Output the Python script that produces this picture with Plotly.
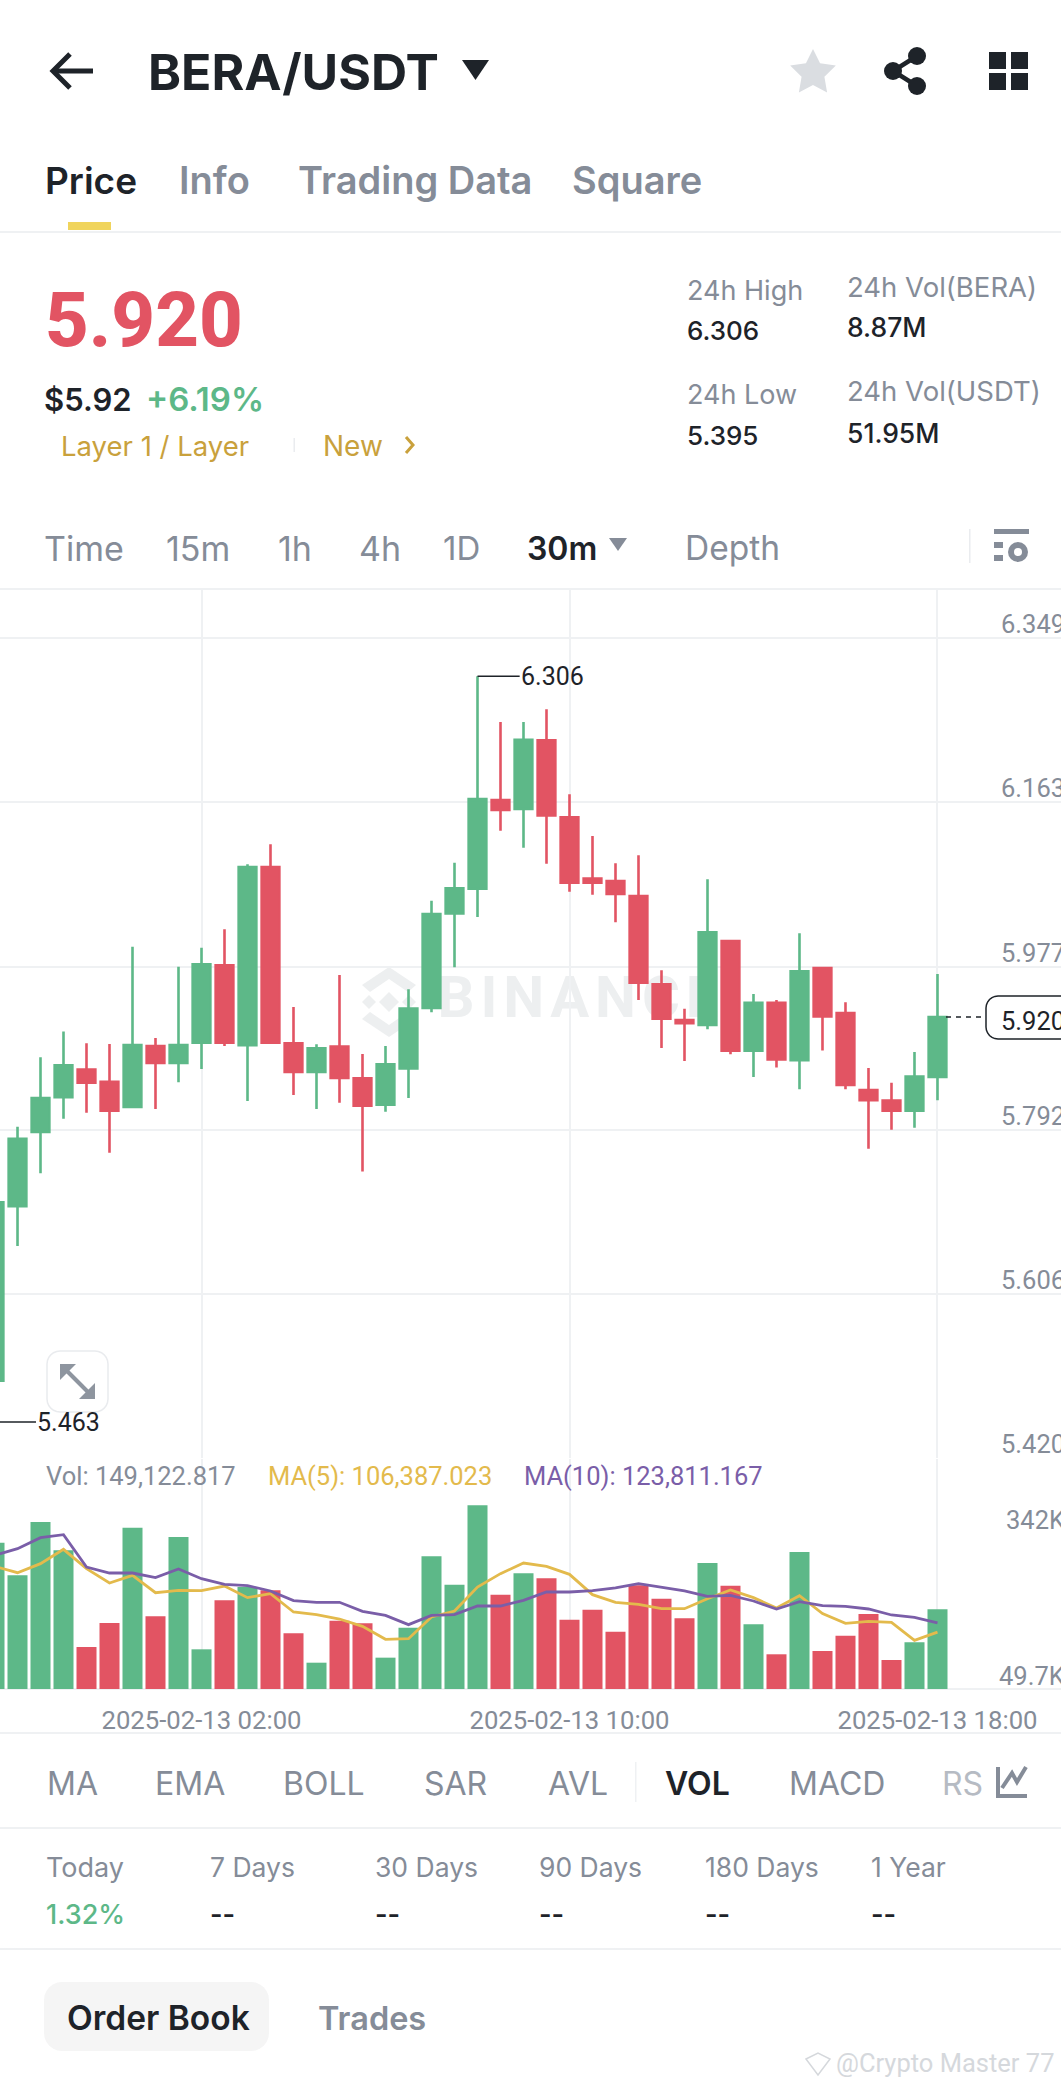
import math
import pandas as pd
import plotly.graph_objects as go

# --- candle data (30m bars) ---
opens = [5.508, 5.7055, 5.7897, 5.8290, 5.8603, 5.8464, 5.8180, 5.8871, 5.8679, 5.8909, 5.9785, 5.8879, 6.0899, 5.8902,
         5.8577, 5.8864, 5.8505, 5.8207, 5.8618, 5.9302, 6.0374, 6.0653, 6.1658, 6.1556, 6.2334, 6.1462, 6.0767, 6.0740,
         6.0570, 5.9569, 5.9166, 5.9109, 6.0060, 5.8819, 5.9359, 5.8709, 5.9755, 5.9245, 5.8373, 5.8252, 5.8139, 5.8520]
closes = [5.710, 5.782, 5.8282, 5.8652, 5.8456, 5.8139, 5.8883, 5.8679, 5.8883, 5.9797, 5.8909, 6.0899, 5.8909, 5.8577,
          5.8845, 5.8509, 5.8195, 5.8664, 5.9294, 6.0366, 6.0657, 6.1669, 6.1545, 6.2341, 6.1484, 6.0721, 6.0721, 6.0593,
          5.9588, 5.9180, 5.9128, 6.0159, 5.8819, 5.9359, 5.8720, 5.9717, 5.9207, 5.8430, 5.8256, 5.8139, 5.8524, 5.920]
highs = [5.725, 5.7957, 5.8743, 5.9034, 5.8902, 5.8894, 5.9996, 5.8962, 5.9770, 5.9985, 6.0193, 6.0929, 6.1156, 5.9313,
         5.8890, 5.9676, 5.8781, 5.8871, 5.9513, 6.0517, 6.0948, 6.306, 6.2541, 6.2541, 6.2685, 6.1722, 6.1250, 6.0940,
         6.1031, 5.9728, 5.9294, 6.0759, 6.0060, 5.9461, 5.9393, 6.0147, 5.9755, 5.9366, 5.8622, 5.8456, 5.8803, 5.9687]
lows = [5.463, 5.6606, 5.7429, 5.8048, 5.8116, 5.7663, 5.8180, 5.8158, 5.8460, 5.8611, 5.8871, 5.8248, 5.8909, 5.8316,
        5.8158, 5.8229, 5.7448, 5.8127, 5.8282, 5.9253, 5.9763, 6.0332, 6.1310, 6.1118, 6.0937, 6.0619, 6.0585, 6.0272,
        5.9393, 5.8849, 5.8701, 5.9060, 5.8777, 5.8520, 5.8626, 5.8380, 5.8819, 5.8380, 5.7708, 5.7923, 5.7946, 5.8256]

# --- volume and its moving averages ---
volumes = [273700, 212600, 312300, 259300, 78500, 123400, 301700, 135900, 284200, 74200, 165800, 190700, 184500, 104100,
           49200, 127800, 122800, 58600, 114700, 248100, 195100, 343500, 176400, 216300, 207000, 129600, 148300, 107200,
           193900, 168900, 132200, 235600, 193200, 121000, 64900, 256200, 71100, 99700, 140300, 54200, 87300, 149123]
ma5 = [229400, 217500, 234400, 261200, 225000, 198200, 212500, 180100, 184500, 183900, 192600, 170800, 178300, 144000,
       139000, 130900, 117200, 92900, 94100, 134600, 145900, 190700, 215700, 235600, 229400, 214400, 176400, 162100,
       158300, 150200, 150200, 168900, 185100, 170800, 151500, 174500, 140900, 122800, 126500, 124700, 91000, 106387]
ma10 = [249900, 262400, 283000, 288600, 228100, 216900, 216900, 208200, 224400, 206300, 195700, 193200, 183300, 165200,
        162100, 162100, 145200, 137700, 120300, 137700, 139000, 155200, 155200, 165800, 181400, 181400, 183900, 188900,
        197000, 190100, 183300, 173300, 175100, 164600, 149600, 163300, 155800, 154600, 149600, 138400, 134000, 123811]

times = pd.date_range("2025-02-12 21:30", periods=len(opens), freq="30min")
time_ticks = ["2025-02-13 02:00", "2025-02-13 10:00", "2025-02-13 18:00"]
price_ticks = [6.349, 6.163, 5.977, 5.792, 5.606, 5.420]
vol_ticks = [342000, 49700]
vol_tick_text = ["342K", "49.7K"]

# --- page and colours ---
W, H = 1061, 2085
GREEN = "#5DB888"
RED = "#E25463"
DARK = "#1E2329"
GRAY = "#858C98"
GOLD = "#C9A13C"
LINE = "#EFF1F3"
UI = "Inter"
NUM = "Roboto"
NUDGE = 2.5  # annotations carry a little padding on their left side

fig = go.Figure()

# watermark goes on its own bottom subplot so candles cover it
fig.add_trace(go.Scatter(x=[578], y=[1002], mode="text", text=["B\u200aI\u200aN\u200aA\u200aN\u200aC\u200aE"],
                         textfont=dict(family=NUM, size=58, color="#EDEFF0", weight=700),
                         xaxis="x", yaxis="y", showlegend=False, hoverinfo="skip"))

fig.add_trace(go.Candlestick(x=times, open=opens, high=highs, low=lows, close=closes, xaxis="x2", yaxis="y2",
                             increasing=dict(line=dict(color=GREEN, width=2.6), fillcolor=GREEN),
                             decreasing=dict(line=dict(color=RED, width=2.6), fillcolor=RED),
                             whiskerwidth=0, showlegend=False, hoverinfo="skip"))

bar_colors = [GREEN if c >= o else RED for o, c in zip(opens, closes)]
fig.add_trace(go.Bar(x=times, y=volumes, marker=dict(color=bar_colors, line=dict(width=0)), xaxis="x3", yaxis="y3",
                     showlegend=False, hoverinfo="skip"))
fig.add_trace(go.Scatter(x=times, y=ma5, mode="lines", line=dict(color="#E3BA4C", width=2.8), xaxis="x3", yaxis="y3",
                         showlegend=False, hoverinfo="skip"))
fig.add_trace(go.Scatter(x=times, y=ma10, mode="lines", line=dict(color="#7A5EA8", width=2.8), xaxis="x3", yaxis="y3",
                         showlegend=False, hoverinfo="skip"))


def label(text, x, y, size, color=GRAY, weight=400, family=UI, anchor="left"):
    if anchor == "left":
        x -= NUDGE
    fig.add_annotation(text=text, x=x / W, y=1 - y / H, xref="paper", yref="paper", showarrow=False,
                       xanchor=anchor, yanchor="middle", font=dict(family=family, size=size, color=color, weight=weight))


def box(x0, y0, x1, y1, fill, layer="above"):
    fig.add_shape(type="rect", xref="paper", yref="paper", x0=x0 / W, x1=x1 / W, y0=1 - y0 / H, y1=1 - y1 / H,
                  fillcolor=fill, line=dict(width=0), layer=layer)


def path(points, fill=None, stroke=None, width=0, closed=True, layer="above", dash=None):
    d = "M " + " L ".join(f"{px / W:.5f},{1 - py / H:.5f}" for px, py in points) + (" Z" if closed else "")
    fig.add_shape(type="path", xref="paper", yref="paper", path=d, fillcolor=fill if fill else "rgba(0,0,0,0)",
                  line=dict(color=stroke if stroke else "rgba(0,0,0,0)", width=width, dash=dash), layer=layer)


def rounded(x0, y0, x1, y1, r, fill=None, stroke=None, width=0, layer="above"):
    pts = []
    for cx, cy, start in [(x1 - r, y0 + r, -90), (x1 - r, y1 - r, 0), (x0 + r, y1 - r, 90), (x0 + r, y0 + r, 180)]:
        for step in range(7):
            a = math.radians(start + step * 15)
            pts.append((cx + r * math.cos(a), cy + r * math.sin(a)))
    path(pts, fill=fill, stroke=stroke, width=width, layer=layer)


def circle(cx, cy, r, fill):
    fig.add_shape(type="circle", xref="paper", yref="paper", x0=(cx - r) / W, x1=(cx + r) / W,
                  y0=1 - (cy - r) / H, y1=1 - (cy + r) / H, fillcolor=fill, line=dict(width=0))


# --- header ---
path([(70, 54), (53, 71), (70, 88)], stroke=DARK, width=5, closed=False)
path([(53, 71), (93, 71)], stroke=DARK, width=5, closed=False)
label("BERA/USDT", 148, 72, 50, DARK, 700)
path([(462, 60), (489, 60), (475.5, 80)], fill=DARK)
star = []
for n in range(10):
    rad = 24 if n % 2 == 0 else 12
    a = math.radians(-90 + n * 36)
    star.append((813 + rad * math.cos(a), 73 + rad * math.sin(a)))
path(star, fill="#DADDE1")
path([(917, 56), (893, 71), (917, 86)], stroke=DARK, width=4.5, closed=False)
circle(917, 56, 9, DARK)
circle(893, 71, 9, DARK)
circle(917, 86, 9, DARK)
for bx, by in [(989, 52), (1011, 52), (989, 73), (1011, 73)]:
    box(bx, by, bx + 17, by + 17, DARK)

# --- tabs ---
label("Price", 45, 180, 37, DARK, 600)
label("Info", 179, 180, 38, GRAY, 600)
label("Trading Data", 298, 180, 38, GRAY, 600)
label("Square", 572, 180, 38, GRAY, 600)
box(68, 222, 111, 230, "#F0D45C")
box(0, 231, W, 233, LINE)

# --- price block ---
label("5.920", 45, 320, 76, RED, 800, NUM)
label("$5.92", 44, 399, 31, DARK, 600)
label("+6.19%", 146, 399, 33, GREEN, 600)
label("Layer 1 / Layer", 61, 446, 27.5, GOLD, 400)
box(293.5, 438, 295, 452, "#EAECEF")
label("New", 323, 446, 28, GOLD, 400)
path([(406, 437), (413, 445), (406, 453)], stroke=GOLD, width=3, closed=False)
label("24h High", 687, 290, 27, GRAY)
label("6.306", 687, 331, 26, DARK, 500)
label("24h Low", 687, 395, 27, GRAY)
label("5.395", 687, 436, 26, DARK, 500)
label("24h Vol(BERA)", 847, 287, 27.5, GRAY)
label("8.87M", 847, 327, 26.5, DARK, 500)
label("24h Vol(USDT)", 847, 391, 27.5, GRAY)
label("51.95M", 847, 433, 26.5, DARK, 500)

# --- interval row ---
label("Time", 44, 548, 34, GRAY, 400)
label("15m", 166, 548, 34, GRAY, 400)
label("1h", 278, 548, 34, GRAY, 400)
label("4h", 359, 548, 34, GRAY, 400)
label("1D", 443, 548, 33, GRAY, 400)
label("30m", 527, 548, 32, DARK, 600)
path([(609, 538), (627, 538), (618, 551)], fill=GRAY)
label("Depth", 685, 548, 33.5, GRAY, 400)
box(969, 529, 970.5, 563, "#EAECEF")
box(994, 529, 1029, 534, GRAY)
box(994, 542, 1003, 548, GRAY)
box(994, 555, 1003, 561, GRAY)
circle(1018, 552, 10, GRAY)
circle(1018, 552, 4, "white")
box(0, 588, W, 590, LINE)

# --- chart overlays ---
logo = "#EDEFF0"
path([(389, 992), (399, 1002), (389, 1012), (379, 1002)], fill=logo, layer="below")
path([(369, 995), (376, 1002), (369, 1009), (362, 1002)], fill=logo, layer="below")
path([(409, 995), (416, 1002), (409, 1009), (402, 1002)], fill=logo, layer="below")
path([(389, 967), (416, 985), (408, 992), (389, 979), (370, 992), (362, 985)], fill=logo, layer="below")
path([(389, 1037), (416, 1019), (408, 1012), (389, 1025), (370, 1012), (362, 1019)], fill=logo, layer="below")

for tick in price_ticks:
    fig.add_annotation(text=f"{tick:.3f}", x=(1001 - NUDGE) / W, y=tick, xref="paper", yref="y2", showarrow=False, xanchor="left",
                       yanchor="middle", yshift=14, font=dict(family=NUM, size=25.5, color=GRAY))
for tick, text, left in zip(vol_ticks, vol_tick_text, [1006, 999]):
    fig.add_annotation(text=text, x=(left - NUDGE) / W, y=tick, xref="paper", yref="y3", showarrow=False, xanchor="left",
                       yanchor="middle", yshift=-14, font=dict(family=NUM, size=25.5, color=GRAY))

# high / low markers
fig.add_shape(type="line", xref="x2", yref="y2", x0=times[21], x1=times[21] + pd.Timedelta(minutes=55),
              y0=max(highs), y1=max(highs), line=dict(color=DARK, width=1.5))
fig.add_annotation(text="6.306", x=times[21] + pd.Timedelta(minutes=54), y=max(highs), xref="x2", yref="y2", showarrow=False,
                   xanchor="left", yanchor="middle", font=dict(family=NUM, size=25, color=DARK))
fig.add_shape(type="line", xref="paper", yref="y2", x0=0, x1=36 / W, y0=5.461, y1=5.461, line=dict(color=DARK, width=1.5))
label("5.463", 37, 1422, 25, DARK, 400, NUM)

# last price tag
fig.add_shape(type="line", xref="paper", yref="y2", x0=946 / W, x1=985 / W, y0=closes[-1], y1=closes[-1],
              line=dict(color=DARK, width=1.5, dash="5px,5px"))
rounded(986, 996, 1075, 1039, 12, fill="white", stroke=DARK, width=1.5)
label("5.920", 1001, 1021, 25.5, DARK, 400, NUM)

# expand button
rounded(47, 1351, 108, 1412, 13, fill="rgba(255,255,255,0.9)", stroke="#E9EBEE", width=1.5)
path([(60, 1364), (76, 1364), (60, 1380)], fill="#8E959F")
path([(95, 1399), (79, 1399), (95, 1383)], fill="#8E959F")
path([(66, 1370), (89, 1393)], stroke="#8E959F", width=4, closed=False)

# volume legend
label("Vol: 149,122.817", 46, 1476, 25.5, GRAY, 400, NUM)
label("MA(5): 106,387.023", 268, 1476, 25.5, "#E3BA4C", 400, NUM)
label("MA(10): 123,811.167", 524, 1476, 25.5, "#7A5EA8", 400, NUM)

# --- indicator row ---
box(0, 1732, W, 1734, LINE)
for text, left in [("MA", 47), ("EMA", 155), ("BOLL", 283), ("SAR", 424), ("AVL", 548), ("MACD", 789)]:
    label(text, left, 1783, 32, GRAY, 400)
box(635, 1762, 636.5, 1802, "#EFF1F3")
label("VOL", 665, 1783, 32, DARK, 600)
label("RS", 942, 1783, 32, "#B6BBC3", 400)
path([(998, 1767), (998, 1796), (1027, 1796)], stroke=GRAY, width=4, closed=False)
path([(1002, 1788), (1012, 1773), (1017, 1782), (1026, 1767)], stroke=GRAY, width=4, closed=False)
box(0, 1827, W, 1829, LINE)

# --- performance row ---
label("Today", 46, 1867, 27, GRAY)
label("1.32%", 46, 1914, 27, GREEN, 500)
for text, left in [("7 Days", 210), ("30 Days", 375), ("90 Days", 540), ("180 Days", 705), ("1 Year", 871)]:
    label(text, left, 1867, 26.5, GRAY)
    label("--", left, 1914, 27, DARK, 600)
box(0, 1948, W, 1950, LINE)

# --- bottom tabs ---
rounded(44, 1982, 269, 2051, 18, fill="#F5F5F5")
label("Order Book", 158, 2018, 33.5, DARK, 600, anchor="center")
label("Trades", 318, 2018, 32.5, GRAY, 600)
path([(806, 2059), (818, 2053), (830, 2059), (818, 2075)], stroke="#D5D8DC", width=1.5)
label("@Crypto Master 77", 836, 2063, 25.5, "#D5D8DC", 400, NUM)

# --- axes: pixel space for the watermark, then price and volume ---
price_top = 6.4037
vol_top = 430100
fig.update_layout(
    width=W, height=H, autosize=False,
    margin=dict(l=0, r=0, t=0, b=0),
    paper_bgcolor="white", plot_bgcolor="rgba(0,0,0,0)",
    showlegend=False, bargap=0.13, boxgap=0.23, boxgroupgap=0,
    xaxis=dict(domain=[0, 1], range=[0, W], visible=False, fixedrange=True),
    yaxis=dict(domain=[0, 1], range=[H, 0], visible=False, fixedrange=True),
    xaxis2=dict(domain=[0, 1], anchor="y2", type="date", range=["2025-02-12 21:37:10", "2025-02-13 20:41:06"],
                tickvals=time_ticks, showticklabels=False, showgrid=True, gridcolor=LINE, gridwidth=1.5,
                rangeslider=dict(visible=False), zeroline=False, showline=False),
    yaxis2=dict(domain=[1 - 1458.3 / H, 1 - 590 / H], anchor="x2", range=[5.420, price_top], tickvals=price_ticks,
                showticklabels=False, showgrid=True, gridcolor=LINE, gridwidth=1.5, zeroline=False, showline=False),
    xaxis3=dict(domain=[0, 1], anchor="y3", type="date", range=["2025-02-12 21:37:10", "2025-02-13 20:41:06"],
                tickvals=time_ticks, tickformat="%Y-%m-%d %H:%M", showgrid=True, gridcolor=LINE, gridwidth=1.5,
                ticks="outside", ticklen=8, tickcolor="rgba(0,0,0,0)", zeroline=False, showline=False,
                tickfont=dict(family=NUM, size=25.7, color=GRAY)),
    yaxis3=dict(domain=[1 - 1689 / H, 1 - 1459 / H], anchor="x3", range=[0, vol_top], showticklabels=False,
                showgrid=False, zeroline=True, zerolinecolor=LINE, zerolinewidth=1.5, showline=False),
)

fig.write_html("out.html", config=dict(displayModeBar=False), post_script="document.body.style.margin='0';")
